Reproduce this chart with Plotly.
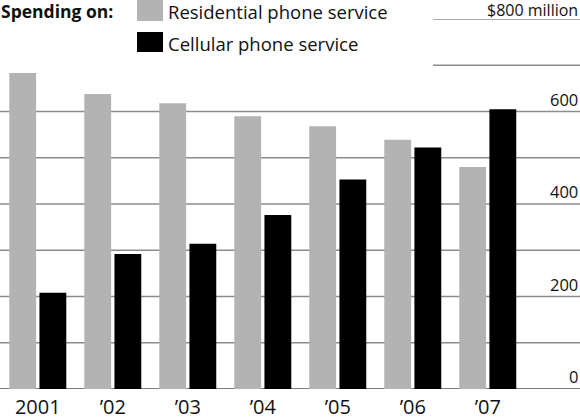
import plotly.graph_objects as go

years = ["2001", "\u201902", "\u201903", "\u201904", "\u201905", "\u201906", "\u201907"]
residential = [683, 638, 618, 590, 568, 539, 480]
cellular = [208, 292, 314, 376, 453, 522, 605]
grid_values = [0, 100, 200, 300, 400, 500, 600, 700, 800]
tick_labels = {0: "0", 200: "200", 400: "400", 600: "600", 800: "$800 million"}

W, H = 580, 419
TOP, BOTTOM = 19, 389
FONT = "Open Sans"


def px_x(p):
    return p / W


def px_y(p):
    return (BOTTOM - p) / (BOTTOM - TOP)


fig = go.Figure()
fig.add_trace(go.Bar(x=years, y=residential, marker_color="#b3b3b3",
                     marker_line_width=0, name="Residential phone service"))
fig.add_trace(go.Bar(x=years, y=cellular, marker_color="#000000",
                     marker_line_width=0, name="Cellular phone service"))

shapes = []
for v in grid_values:
    x0 = px_x(433) if v >= 700 else 0
    shapes.append(dict(type="line", xref="paper", yref="y", x0=x0, x1=1, y0=v, y1=v,
                       line=dict(color="#555555" if v == 0 else "#8c8c8c", width=1.4),
                       layer="below"))

# legend swatches
shapes.append(dict(type="rect", xref="paper", yref="paper", x0=px_x(137), x1=px_x(163),
                   y0=px_y(21), y1=px_y(0), fillcolor="#b3b3b3", line_width=0))
shapes.append(dict(type="rect", xref="paper", yref="paper", x0=px_x(137), x1=px_x(163),
                   y0=px_y(52), y1=px_y(32), fillcolor="#000000", line_width=0))

annotations = []
for v, t in tick_labels.items():
    top = v == 800
    annotations.append(dict(x=1, y=v, xref="paper", yref="y", text=t, showarrow=False,
                            xanchor="right", yanchor="bottom", xshift=-1,
                            yshift=-3 if top else 0, borderpad=0,
                            font=dict(size=16 if top else 16.5, color="#111111", family=FONT)))

annotations.append(dict(x=px_x(0), y=px_y(11), xref="paper", yref="paper",
                        text="<b>Spending on:</b>", showarrow=False, xanchor="left",
                        yanchor="middle", borderpad=0,
                        font=dict(size=17.5, color="#111111", family=FONT)))
annotations.append(dict(x=px_x(167), y=px_y(11), xref="paper", yref="paper",
                        text="Residential phone service", showarrow=False, xanchor="left",
                        yanchor="middle", borderpad=0,
                        font=dict(size=18.5, color="#111111", family=FONT)))
annotations.append(dict(x=px_x(167), y=px_y(43), xref="paper", yref="paper",
                        text="Cellular phone service", showarrow=False, xanchor="left",
                        yanchor="middle", borderpad=0,
                        font=dict(size=18.5, color="#111111", family=FONT)))

fig.update_layout(
    width=W, height=H,
    margin=dict(l=0, r=0, t=TOP, b=H - BOTTOM),
    paper_bgcolor="white", plot_bgcolor="white",
    barmode="group", bargap=0.196, bargroupgap=0.11,
    showlegend=False,
    shapes=shapes,
    annotations=annotations,
    xaxis=dict(range=[-0.504, 7.23], showgrid=False, zeroline=False, showline=False,
               ticks="", ticklabelstandoff=4,
               tickfont=dict(size=20, color="#111111", family=FONT)),
    yaxis=dict(range=[0, 800], showgrid=False, zeroline=False, showline=False,
               showticklabels=False, ticks=""),
)

fig.write_html("out.html", config={"displayModeBar": False},
               post_script="document.body.style.margin='0';")
